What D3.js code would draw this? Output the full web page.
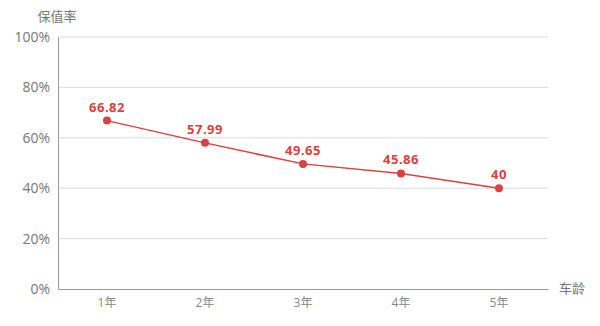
<!DOCTYPE html>
<html lang="zh">
<head>
    <meta charset="UTF-8">
    <title>保值率</title>
    <script src="https://cdn.jsdelivr.net/npm/d3@7"></script>
    <style>
        body { margin: 0; background: #fff; }
        text { font-family: "Open Sans", "Noto Sans CJK SC", sans-serif; }
    </style>
</head>
<body>
    <div id="chart"></div>
    <script>
        // data
        var years = ["1年", "2年", "3年", "4年", "5年"];
        var rates = [66.82, 57.99, 49.65, 45.86, 40];
        var yTicks = [0, 20, 40, 60, 80, 100];

        var width = 600, height = 326;
        var margin = {top: 37, right: 52, bottom: 37, left: 58};
        var chartWidth = width - margin.left - margin.right;
        var chartHeight = height - margin.top - margin.bottom;
        var red = "#dc4040";

        var svg = d3.select("#chart").append("svg")
            .attr("width", width)
            .attr("height", height);

        var g = svg.append("g")
            .attr("transform", "translate(" + margin.left + "," + margin.top + ")");

        var xScale = d3.scaleBand().domain(years).range([0, chartWidth]);
        var yScale = d3.scaleLinear().domain([0, 100]).range([chartHeight, 0]);

        // grid lines
        g.selectAll(".grid")
            .data(yTicks.filter(function(d) { return d > 0; }))
            .join("line")
            .attr("x1", 0).attr("x2", chartWidth)
            .attr("y1", function(d) { return yScale(d); })
            .attr("y2", function(d) { return yScale(d); })
            .attr("stroke", "#dcdcdc");

        // y axis
        g.append("g")
            .call(d3.axisLeft(yScale).tickValues(yTicks).tickSize(0).tickPadding(8)
                .tickFormat(function(d) { return d + "%"; }))
            .call(function(a) { a.select(".domain").attr("stroke", "#999"); })
            .call(function(a) { a.selectAll("text").attr("fill", "#777").style("font-size", "14px"); });

        // x axis
        g.append("g")
            .attr("transform", "translate(0," + chartHeight + ")")
            .call(d3.axisBottom(xScale).tickSize(0).tickPadding(9))
            .call(function(a) { a.select(".domain").attr("stroke", "#999"); })
            .call(function(a) { a.selectAll("text").attr("fill", "#888").style("font-size", "12px"); });

        // axis titles
        svg.append("text")
            .attr("x", 57).attr("y", 21)
            .attr("text-anchor", "middle")
            .attr("fill", "#777")
            .style("font-size", "13px")
            .text("保值率");

        svg.append("text")
            .attr("x", 559).attr("y", 293)
            .attr("fill", "#777")
            .style("font-size", "13px")
            .text("车龄");

        // line
        var line = d3.line()
            .x(function(d, i) { return xScale(years[i]) + xScale.bandwidth() / 2; })
            .y(function(d) { return yScale(d); });

        g.append("path")
            .datum(rates)
            .attr("d", line)
            .attr("fill", "none")
            .attr("stroke", red)
            .attr("stroke-width", 1.5);

        g.selectAll(".dot")
            .data(rates)
            .join("circle")
            .attr("cx", function(d, i) { return xScale(years[i]) + xScale.bandwidth() / 2; })
            .attr("cy", function(d) { return yScale(d); })
            .attr("r", 4)
            .attr("fill", red);

        g.selectAll(".label")
            .data(rates)
            .join("text")
            .attr("x", function(d, i) { return xScale(years[i]) + xScale.bandwidth() / 2; })
            .attr("y", function(d) { return yScale(d) - 9; })
            .attr("text-anchor", "middle")
            .attr("fill", red)
            .style("font-size", "13px")
            .style("font-weight", "bold")
            .style("letter-spacing", "0.5px")
            .text(function(d) { return d; });
    </script>
</body>
</html>
